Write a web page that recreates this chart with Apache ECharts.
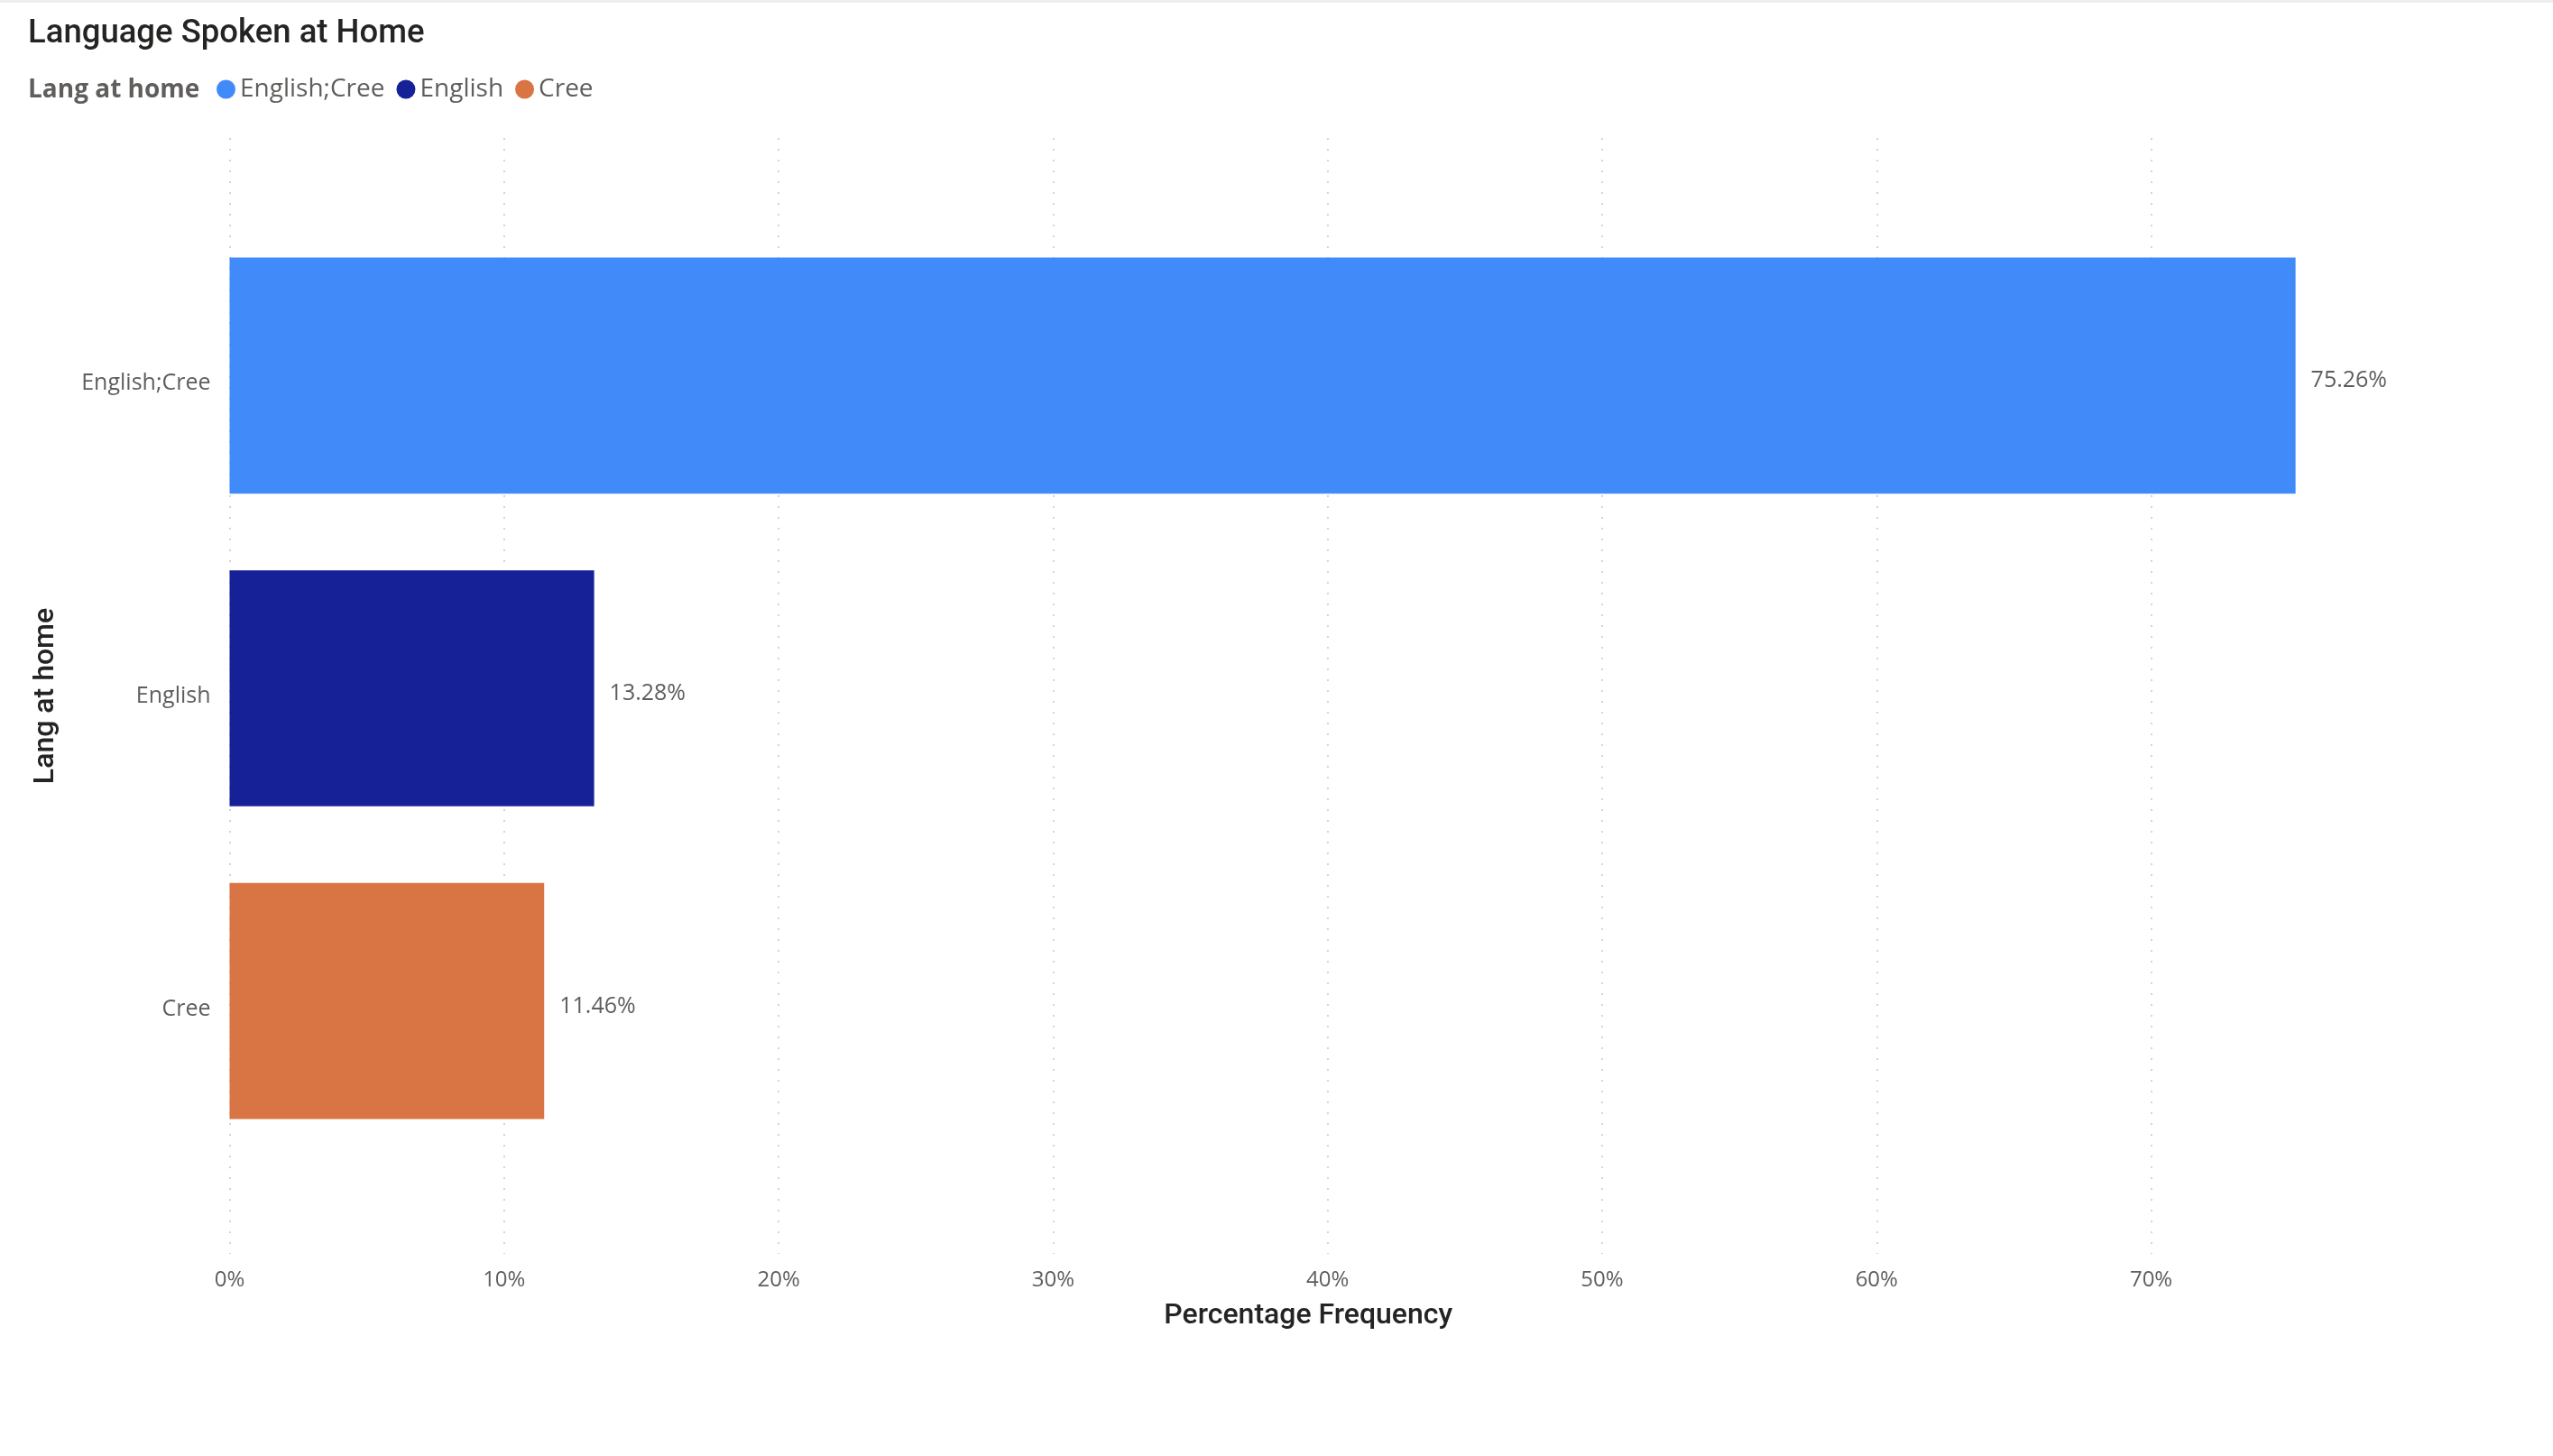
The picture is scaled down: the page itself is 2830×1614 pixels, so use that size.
<!DOCTYPE html>
<html>
<head>
<meta charset="utf-8">
<script src="https://cdn.jsdelivr.net/npm/echarts@6/dist/echarts.min.js"></script>
<style>
  html, body { margin: 0; padding: 0; background: #fff; }
  #chart { width: 2830px; height: 1614px; }
</style>
</head>
<body>
<div id="chart"></div>
<script>
const categories = ['English;Cree', 'English', 'Cree']
const values = [75.26, 13.28, 11.46]
const barColors = ['#418AF9', '#162197', '#D97445']
const xTicks = [0, 10, 20, 30, 40, 50, 60, 70]
const xMax = 78

const labelFont = '"Open Sans", "Noto Sans", sans-serif'
const titleFont = 'Roboto, "Noto Sans", sans-serif'

// one series per category so the legend lists them, stacked so they sit on one band
const series = categories.map((name, i) => ({
    name: name,
    type: 'bar',
    stack: 'all',
    xAxisIndex: 1,
    yAxisIndex: 1,
    barCategoryGap: '24.5%',
    itemStyle: { color: barColors[i] },
    label: {
        show: true,
        position: 'right',
        distance: 17,
        offset: [0, 6],
        color: '#605E5C',
        fontFamily: labelFont,
        fontSize: 25,
        formatter: p => p.value.toFixed(2) + '%'
    },
    data: values.map((v, j) => (j === i ? v : '-'))
}))

// gridline per tick, last one (at the axis max) hidden
const gridColors = xTicks.map(() => '#C8C6C4').concat(['rgba(0,0,0,0)'])

const option = {
    animation: false,
    backgroundColor: '#fff',
    title: [{
        text: 'Language Spoken at Home',
        left: 31,
        top: 19,
        padding: 0,
        textStyle: { fontFamily: titleFont, fontSize: 36.5, fontWeight: 500, color: '#252423' }
    }, {
        text: 'Lang at home',
        left: 31,
        top: 86,
        padding: 0,
        textStyle: { fontFamily: labelFont, fontSize: 28, fontWeight: 'bold', color: '#605E5C' }
    }],
    legend: {
        left: 240,
        top: 85,
        padding: 0,
        icon: 'circle',
        itemWidth: 21,
        itemHeight: 21,
        itemGap: 13,
        textStyle: { fontFamily: labelFont, fontSize: 28, color: '#605E5C', padding: 0 },
        data: categories
    },
    graphic: [{
        type: 'rect',
        left: 0,
        top: 0,
        shape: { width: 2830, height: 3 },
        style: { fill: '#EEEEEE' }
    }],
    grid: [
        { left: 254.5, right: 202, top: 153, bottom: 224 },
        { left: 254.5, right: 202, top: 243, bottom: 331 }
    ],
    xAxis: [{
        type: 'value',
        gridIndex: 0,
        min: 0,
        max: xMax,
        interval: 10,
        name: 'Percentage Frequency',
        nameLocation: 'middle',
        nameGap: 53,
        nameTextStyle: {
            fontFamily: titleFont, fontSize: 32, fontWeight: 500, color: '#252423',
            padding: [0, 0, 0, 18]
        },
        axisLine: { show: false },
        axisTick: { show: false },
        axisLabel: {
            color: '#605E5C',
            fontFamily: labelFont,
            fontSize: 24,
            margin: 17,
            showMaxLabel: false,
            formatter: v => (xTicks.indexOf(v) >= 0 ? v + '%' : '')
        },
        splitLine: {
            show: true,
            lineStyle: { color: gridColors, width: 1.5, type: [2, 10] }
        }
    }, {
        type: 'value',
        gridIndex: 1,
        min: 0,
        max: xMax,
        interval: 10,
        show: false
    }],
    yAxis: [{
        type: 'value',
        gridIndex: 0,
        min: 0,
        max: 1,
        name: 'Lang at home',
        nameLocation: 'middle',
        nameGap: 188,
        nameTextStyle: { fontFamily: titleFont, fontSize: 32, fontWeight: 500, color: '#252423' },
        axisLine: { show: false },
        axisTick: { show: false },
        axisLabel: { show: false },
        splitLine: { show: false }
    }, {
        type: 'category',
        gridIndex: 1,
        inverse: true,
        data: categories,
        axisLine: { show: false },
        axisTick: { show: false },
        axisLabel: {
            color: '#605E5C',
            fontFamily: labelFont,
            fontSize: 25,
            margin: 21,
            verticalAlign: 'top',
            lineHeight: 18
        }
    }],
    series: series
}

let myChart = echarts.init(document.getElementById('chart'))
myChart.setOption(option)
</script>
</body>
</html>
